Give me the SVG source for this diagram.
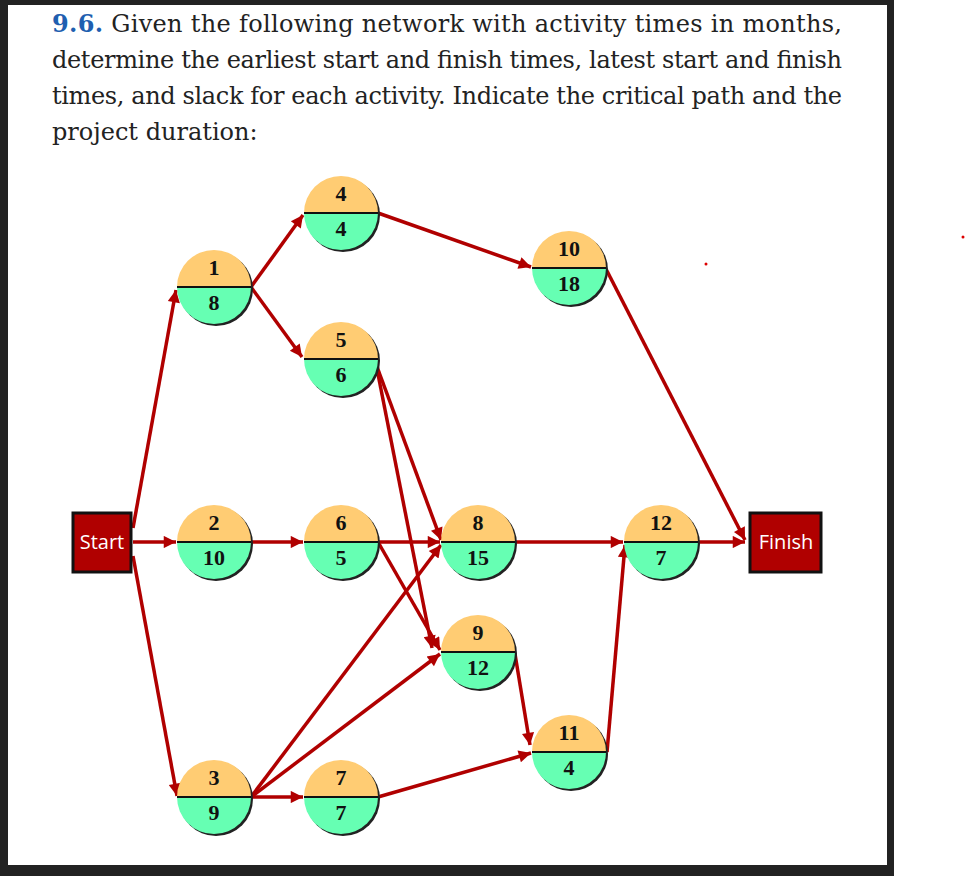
<svg xmlns="http://www.w3.org/2000/svg" width="968" height="876" viewBox="0 0 968 876">
<style>
.q{font-family:"DejaVu Serif","Liberation Serif",serif;font-size:24px;fill:#222}
.n{font-family:"Liberation Serif","DejaVu Serif",serif;font-size:22px;font-weight:bold;fill:#111;text-anchor:middle}
.t{fill:#FFCC73}.b{fill:#66FFB3}
.e{stroke:#B00000;stroke-width:3.5;fill:none;marker-end:url(#a)}
.box{fill:#B00000;stroke:#111;stroke-width:3}
.bt{font-family:"Open Sans","DejaVu Sans",sans-serif;font-size:20px;fill:#fff;text-anchor:middle}
</style>
<defs>
<marker id="a" viewBox="0 0 10 10" refX="10" refY="5" markerWidth="5" markerHeight="3.5" orient="auto" markerUnits="strokeWidth"><path d="M0,0L10,5L0,10z" fill="#B00000"/></marker>
<g id="nd"><circle cx="2" cy="2" r="37" fill="#222"/><path class="t" d="M-37,0A37,37 0 0 1 37,0z"/><path class="b" d="M-37,0A37,37 0 0 0 37,0z"/><line x1="-37" x2="37" y1="0" y2="0" stroke="#111" stroke-width="2"/></g>
</defs>
<rect width="968" height="876" fill="#fff"/>
<rect x="0" y="0" width="894" height="876" fill="#222"/>
<rect x="8" y="5" width="879" height="860" fill="#fff"/>
<circle cx="963" cy="237" r="1.5" fill="#d00"/>
<circle cx="706" cy="264" r="1.5" fill="#d00"/>
<text class="q" x="52" y="32" textLength="790" lengthAdjust="spacing"><tspan fill="#1F5FB0" font-weight="bold">9.6.</tspan> Given the following network with activity times in months,</text>
<text class="q" x="52" y="68" textLength="790" lengthAdjust="spacing">determine the earliest start and finish times, latest start and finish</text>
<text class="q" x="52" y="104" textLength="790" lengthAdjust="spacing">times, and slack for each activity. Indicate the critical path and the</text>
<text class="q" x="52" y="140">project duration:</text>
<g id="connectors">
<line class="e" x1="133" y1="528" x2="176" y2="290"/>
<line class="e" x1="133" y1="542" x2="176" y2="542"/>
<line class="e" x1="133" y1="556" x2="177" y2="796"/>
<line class="e" x1="251" y1="287" x2="303" y2="215"/>
<line class="e" x1="251" y1="287" x2="302" y2="357"/>
<line class="e" x1="378" y1="213" x2="531" y2="267"/>
<line class="e" x1="606" y1="269" x2="745" y2="540"/>
<line class="e" x1="251" y1="542" x2="303" y2="542"/>
<line class="e" x1="378" y1="542" x2="440" y2="542"/>
<line class="e" x1="378" y1="542" x2="440" y2="650"/>
<line class="e" x1="376" y1="364" x2="441" y2="540"/>
<line class="e" x1="376" y1="364" x2="432" y2="648"/>
<line class="e" x1="251" y1="797" x2="441" y2="545"/>
<line class="e" x1="251" y1="797" x2="440" y2="654"/>
<line class="e" x1="251" y1="797" x2="303" y2="797"/>
<line class="e" x1="378" y1="797" x2="531" y2="753"/>
<line class="e" x1="515" y1="542" x2="623" y2="542"/>
<line class="e" x1="515" y1="654" x2="530" y2="745"/>
<line class="e" x1="607" y1="752" x2="625" y2="545"/>
<line class="e" x1="698" y1="542" x2="745" y2="542"/>
</g>
<g id="start"><rect class="box" x="73" y="513" width="58" height="59"/><text class="bt" x="102" y="549">Start</text></g>
<g id="finish"><rect class="box" x="750" y="513" width="71" height="59"/><text class="bt" x="786" y="549">Finish</text></g>
<g id="n1"><use href="#nd" x="214" y="287"/><text class="n" x="214" y="275">1</text><text class="n" x="214" y="310">8</text></g>
<g id="n4"><use href="#nd" x="341" y="213"/><text class="n" x="341" y="201">4</text><text class="n" x="341" y="236">4</text></g>
<g id="n5"><use href="#nd" x="341" y="359"/><text class="n" x="341" y="347">5</text><text class="n" x="341" y="382">6</text></g>
<g id="n10"><use href="#nd" x="569" y="268"/><text class="n" x="569" y="256">10</text><text class="n" x="569" y="291">18</text></g>
<g id="n2"><use href="#nd" x="214" y="542"/><text class="n" x="214" y="530">2</text><text class="n" x="214" y="565">10</text></g>
<g id="n6"><use href="#nd" x="341" y="542"/><text class="n" x="341" y="530">6</text><text class="n" x="341" y="565">5</text></g>
<g id="n8"><use href="#nd" x="478" y="542"/><text class="n" x="478" y="530">8</text><text class="n" x="478" y="565">15</text></g>
<g id="n12"><use href="#nd" x="661" y="542"/><text class="n" x="661" y="530">12</text><text class="n" x="661" y="565">7</text></g>
<g id="n9"><use href="#nd" x="478" y="652"/><text class="n" x="478" y="640">9</text><text class="n" x="478" y="675">12</text></g>
<g id="n11"><use href="#nd" x="569" y="752"/><text class="n" x="569" y="740">11</text><text class="n" x="569" y="775">4</text></g>
<g id="n3"><use href="#nd" x="214" y="797"/><text class="n" x="214" y="785">3</text><text class="n" x="214" y="820">9</text></g>
<g id="n7"><use href="#nd" x="341" y="797"/><text class="n" x="341" y="785">7</text><text class="n" x="341" y="820">7</text></g>
</svg>
